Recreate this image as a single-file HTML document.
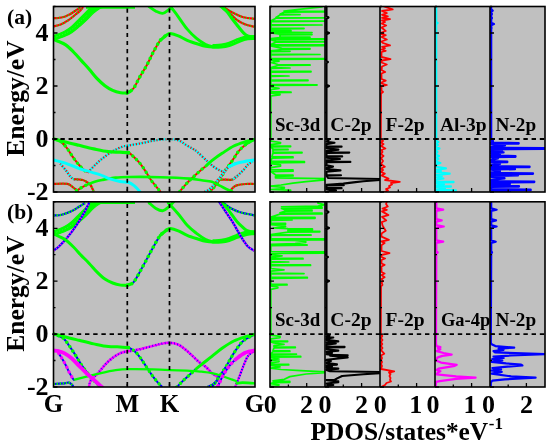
<!DOCTYPE html>
<html><head><meta charset="utf-8"><style>html,body{margin:0;padding:0;background:#fff;overflow:hidden;}svg{display:block;}</style></head><body>
<svg width="550" height="446" viewBox="0 0 550 446" font-family="'Liberation Serif', 'Times New Roman', serif" font-weight="bold">
<rect width="550" height="446" fill="#fff"/>
<rect x="53.5" y="6.5" width="201.5" height="185.5" fill="#c0c0c0"/>
<rect x="270.0" y="6.5" width="275.0" height="185.5" fill="#c0c0c0"/>
<rect x="53.5" y="201.8" width="201.5" height="185.2" fill="#c0c0c0"/>
<rect x="270.0" y="201.8" width="275.0" height="185.2" fill="#c0c0c0"/>
<defs>
<clipPath id="banda"><rect x="53.5" y="6.5" width="201.5" height="185.5"/></clipPath>
<clipPath id="pa0"><rect x="270.0" y="6.5" width="55.0" height="185.5"/></clipPath>
<clipPath id="pa1"><rect x="325.0" y="6.5" width="55.0" height="185.5"/></clipPath>
<clipPath id="pa2"><rect x="380.0" y="6.5" width="55.0" height="185.5"/></clipPath>
<clipPath id="pa3"><rect x="435.0" y="6.5" width="55.0" height="185.5"/></clipPath>
<clipPath id="pa4"><rect x="490.0" y="6.5" width="55.0" height="185.5"/></clipPath>
<clipPath id="bandb"><rect x="53.5" y="201.8" width="201.5" height="185.2"/></clipPath>
<clipPath id="pb0"><rect x="270.0" y="201.8" width="55.0" height="185.2"/></clipPath>
<clipPath id="pb1"><rect x="325.0" y="201.8" width="55.0" height="185.2"/></clipPath>
<clipPath id="pb2"><rect x="380.0" y="201.8" width="55.0" height="185.2"/></clipPath>
<clipPath id="pb3"><rect x="435.0" y="201.8" width="55.0" height="185.2"/></clipPath>
<clipPath id="pb4"><rect x="490.0" y="201.8" width="55.0" height="185.2"/></clipPath>
</defs>
<g clip-path="url(#banda)">
<path d="M53.6,18.2 C54.3,18.2 56.2,18.2 58.0,18.0 C59.8,17.8 62.5,17.3 64.5,16.7 C66.5,16.1 68.2,15.1 70.0,14.2 C71.8,13.2 73.2,12.2 75.0,11.0 C76.8,9.8 79.6,7.9 80.5,7.3" stroke="#ff0000" stroke-width="2.2" fill="none"/>
<path d="M53.6,18.2 C54.3,18.2 56.2,18.2 58.0,18.0 C59.8,17.8 62.5,17.3 64.5,16.7 C66.5,16.1 68.2,15.1 70.0,14.2 C71.8,13.2 73.2,12.2 75.0,11.0 C76.8,9.8 79.6,7.9 80.5,7.3" stroke="#00ff00" stroke-width="2.2" fill="none" stroke-dasharray="0.8,2.2"/>
<path d="M53.6,26.4 C54.8,26.1 58.2,25.5 60.7,24.5 C63.2,23.5 65.9,21.9 68.4,20.2 C71.0,18.5 74.0,15.8 76.0,14.2 C78.0,12.6 79.2,11.6 80.4,10.4 C81.6,9.2 82.6,7.6 83.0,7.0" stroke="#ff0000" stroke-width="2.2" fill="none"/>
<path d="M53.6,26.4 C54.8,26.1 58.2,25.5 60.7,24.5 C63.2,23.5 65.9,21.9 68.4,20.2 C71.0,18.5 74.0,15.8 76.0,14.2 C78.0,12.6 79.2,11.6 80.4,10.4 C81.6,9.2 82.6,7.6 83.0,7.0" stroke="#00ff00" stroke-width="2.2" fill="none" stroke-dasharray="0.8,2.2"/>
<path d="M224.5,7.8 C226.1,8.7 230.8,11.7 234.0,13.3 C237.2,14.9 240.0,16.4 243.4,17.3 C246.8,18.2 252.6,18.6 254.4,18.8" stroke="#ff0000" stroke-width="2.2" fill="none"/>
<path d="M224.5,7.8 C226.1,8.7 230.8,11.7 234.0,13.3 C237.2,14.9 240.0,16.4 243.4,17.3 C246.8,18.2 252.6,18.6 254.4,18.8" stroke="#00ff00" stroke-width="2.2" fill="none" stroke-dasharray="0.8,2.2"/>
<path d="M226.1,9.4 C227.7,11.0 232.4,16.3 235.5,18.8 C238.6,21.3 241.8,23.0 244.9,24.3 C248.1,25.6 252.8,26.3 254.4,26.7" stroke="#ff0000" stroke-width="2.2" fill="none"/>
<path d="M226.1,9.4 C227.7,11.0 232.4,16.3 235.5,18.8 C238.6,21.3 241.8,23.0 244.9,24.3 C248.1,25.6 252.8,26.3 254.4,26.7" stroke="#00ff00" stroke-width="2.2" fill="none" stroke-dasharray="0.8,2.2"/>
<path d="M53.6,35.4 C54.3,35.2 56.2,34.7 58.0,34.0 C59.8,33.3 62.2,32.6 64.5,31.3 C66.8,30.0 69.4,28.3 71.8,26.2 C74.2,24.1 76.9,21.1 79.1,18.9 C81.3,16.7 83.2,14.8 84.9,13.1 C86.6,11.4 88.1,9.8 89.3,8.7 C90.5,7.6 91.5,6.9 92.0,6.5 L110.0,6.5 C109.2,6.5 107.0,6.4 105.3,6.8 C103.5,7.2 101.5,7.6 99.5,8.7 C97.5,9.8 95.8,11.2 93.6,13.1 C91.4,15.0 88.8,18.1 86.4,20.4 C84.0,22.7 81.5,24.8 79.1,26.9 C76.7,28.9 74.2,31.1 71.8,32.7 C69.4,34.3 66.8,35.4 64.5,36.4 C62.2,37.4 59.8,38.2 58.0,38.8 C56.2,39.4 54.3,40.0 53.6,40.2 Z" fill="#00ff00" stroke="#00ff00" stroke-width="1.2" stroke-linejoin="round"/>
<path d="M53.6,37.8 C54.5,37.5 56.9,36.7 59.0,35.9 C61.1,35.1 63.6,34.3 66.0,33.0 C68.4,31.7 70.9,30.1 73.4,28.1 C75.9,26.1 78.5,23.4 80.8,21.2 C83.1,19.1 86.3,16.0 87.3,14.9" stroke="#9ee89e" stroke-width="0.6" fill="none" stroke-dasharray="1,2" opacity="0.6"/>
<path d="M86,7.6 L135,7.6" stroke="#00ff00" stroke-width="2.4"/>
<path d="M53.9,39.4 C54.6,39.7 56.0,40.4 58.0,41.3 C60.0,42.2 63.1,43.1 65.7,44.9 C68.3,46.7 70.9,49.4 73.5,52.0 C76.1,54.6 78.8,57.7 81.4,60.6 C84.0,63.5 86.6,66.2 89.2,69.2 C91.8,72.2 94.5,75.8 97.1,78.6 C99.7,81.3 102.3,83.7 104.9,85.7 C107.5,87.7 110.1,89.2 112.7,90.4 C115.3,91.6 118.2,92.3 120.6,92.7 C123.0,93.1 125.9,93.0 127.0,93.0" stroke="#00ff00" stroke-width="3.17" fill="none" stroke-linecap="round" stroke-linejoin="round"/>
<path d="M127.0,93.0 C128.1,92.2 131.2,91.3 133.4,88.5 C135.6,85.7 137.9,80.1 140.2,76.2 C142.4,72.3 144.7,69.1 146.9,65.0 C149.1,60.9 151.4,55.6 153.6,51.5 C155.8,47.4 158.1,43.1 160.3,40.3 C162.6,37.5 166.0,35.6 167.1,34.7" stroke="#ff0000" stroke-width="2.0" fill="none"/>
<path d="M127.0,93.0 C128.1,92.2 131.2,91.3 133.4,88.5 C135.6,85.7 137.9,80.1 140.2,76.2 C142.4,72.3 144.7,69.1 146.9,65.0 C149.1,60.9 151.4,55.6 153.6,51.5 C155.8,47.4 158.1,43.1 160.3,40.3 C162.6,37.5 166.0,35.6 167.1,34.7" stroke="#00ff00" stroke-width="3.6" fill="none" stroke-linecap="round" stroke-dasharray="0.01,5.3"/>
<path d="M127.0,93.0 L130.0,91.6" stroke="#00ff00" stroke-width="3.34" fill="none" stroke-linecap="round" stroke-linejoin="round"/>
<path d="M160.3,40.3 C161.4,39.4 165.4,35.8 167.1,34.7 C168.8,33.6 168.5,33.4 170.4,33.6 C172.3,33.8 175.5,34.8 178.3,35.9 C181.1,37.0 183.9,38.9 187.2,40.3 C190.4,41.6 194.7,43.0 197.8,44.0 C200.9,45.0 203.1,45.8 205.7,46.3 C208.3,46.8 210.9,47.0 213.5,47.1 C216.1,47.2 218.8,47.4 221.4,47.1 C224.0,46.8 226.6,46.3 229.2,45.5 C231.8,44.7 234.5,43.4 237.1,42.4 C239.7,41.4 242.0,39.9 244.9,39.2 C247.8,38.6 252.8,38.6 254.4,38.5" stroke="#00ff00" stroke-width="2.99" fill="none" stroke-linecap="round" stroke-linejoin="round"/>
<path d="M171.5,7.8 C172.6,9.3 175.7,13.2 178.3,16.8 C180.9,20.4 184.2,25.6 187.2,29.1 C190.2,32.6 193.1,35.5 196.2,38.1 C199.3,40.7 202.8,43.0 205.7,44.5 C208.6,46.0 212.2,46.7 213.5,47.1" stroke="#00ff00" stroke-width="2.9" fill="none" stroke-linecap="round" stroke-linejoin="round"/>
<path d="M220.0,5.5 C220.6,6.0 222.3,7.4 223.5,8.5 C224.7,9.6 225.9,10.3 227.3,12.0 C228.7,13.7 230.4,16.3 232.0,18.5 C233.6,20.7 235.5,23.1 237.0,25.0 C238.5,26.9 239.5,28.3 241.0,30.0 C242.5,31.7 243.8,33.7 246.0,35.0 C248.2,36.3 253.0,37.2 254.4,37.7" stroke="#00ff00" stroke-width="3.17" fill="none" stroke-linecap="round" stroke-linejoin="round"/>
<path d="M244.0,38.5 C244.8,38.4 247.3,37.9 249.0,37.8 C250.7,37.6 253.5,37.6 254.4,37.6" stroke="#00ff00" stroke-width="3.87" fill="none" stroke-linecap="round" stroke-linejoin="round"/>
<path d="M213.5,45.3 C214.8,45.2 218.8,45.2 221.4,44.8 C224.0,44.4 226.6,43.9 229.2,43.0 C231.8,42.1 234.5,40.6 237.1,39.6 C239.7,38.6 242.0,37.7 244.9,37.1 C247.8,36.5 252.8,36.4 254.4,36.3" stroke="#00ff00" stroke-width="2.64" fill="none" stroke-linecap="round" stroke-linejoin="round"/>
<path d="M149.1,6.7 C150.2,7.5 153.7,10.1 155.9,11.2 C158.2,12.3 160.6,13.6 162.6,13.4 C164.6,13.2 166.7,11.2 168.2,10.1 C169.7,9.0 170.9,7.3 171.5,6.7" stroke="#00ff00" stroke-width="2.9" fill="none" stroke-linecap="round" stroke-linejoin="round"/>
<path d="M53.6,183.9 C55.9,183.9 64.2,183.3 67.5,183.9 C70.8,184.5 71.8,186.6 73.3,187.6 C74.8,188.6 75.3,189.0 76.2,189.7 C77.1,190.4 78.1,191.6 78.5,192.0" stroke="#ff0000" stroke-width="2.2" fill="none"/>
<path d="M53.6,183.9 C55.9,183.9 64.2,183.3 67.5,183.9 C70.8,184.5 71.8,186.6 73.3,187.6 C74.8,188.6 75.3,189.0 76.2,189.7 C77.1,190.4 78.1,191.6 78.5,192.0" stroke="#00ff00" stroke-width="2.2" fill="none" stroke-dasharray="0.8,2.2"/>
<path d="M60.2,163.6 C61.1,164.7 63.9,167.9 65.6,170.0 C67.3,172.1 68.8,174.9 70.2,176.4 C71.6,177.9 72.3,178.7 73.8,179.2 C75.3,179.7 78.4,179.4 79.3,179.5" stroke="#00ffff" stroke-width="2.2" fill="none"/>
<path d="M60.2,163.6 C61.1,164.7 63.9,167.9 65.6,170.0 C67.3,172.1 68.8,174.9 70.2,176.4 C71.6,177.9 72.3,178.7 73.8,179.2 C75.3,179.7 78.4,179.4 79.3,179.5" stroke="#ff0000" stroke-width="2.2" fill="none" stroke-dasharray="1.1,1.9"/>
<path d="M73.8,179.2 C74.7,179.2 77.8,179.4 79.3,179.5 C80.8,179.6 81.7,179.6 82.9,180.0 C84.1,180.4 85.3,181.1 86.5,181.8 C87.7,182.6 89.0,182.9 90.2,184.5 C91.4,186.1 93.2,190.4 93.8,191.6" stroke="#ff0000" stroke-width="2.2" fill="none"/>
<path d="M73.8,179.2 C74.7,179.2 77.8,179.4 79.3,179.5 C80.8,179.6 81.7,179.6 82.9,180.0 C84.1,180.4 85.3,181.1 86.5,181.8 C87.7,182.6 89.0,182.9 90.2,184.5 C91.4,186.1 93.2,190.4 93.8,191.6" stroke="#00ff00" stroke-width="2.2" fill="none" stroke-dasharray="0.8,2.2"/>
<path d="M254.2,184.0 C252.7,184.0 248.3,183.8 245.4,184.0 C242.5,184.2 238.9,184.7 236.7,185.4 C234.5,186.1 233.3,187.4 232.3,188.3 C231.3,189.2 231.1,190.6 230.8,191.0" stroke="#ff0000" stroke-width="2.2" fill="none"/>
<path d="M254.2,184.0 C252.7,184.0 248.3,183.8 245.4,184.0 C242.5,184.2 238.9,184.7 236.7,185.4 C234.5,186.1 233.3,187.4 232.3,188.3 C231.3,189.2 231.1,190.6 230.8,191.0" stroke="#00ff00" stroke-width="2.2" fill="none" stroke-dasharray="0.8,2.2"/>
<path d="M216.3,181.0 C217.3,180.8 219.4,179.8 222.1,179.6 C224.8,179.4 229.6,180.3 232.3,179.6 C235.0,178.9 237.1,175.9 238.1,175.2" stroke="#ff0000" stroke-width="2.2" fill="none"/>
<path d="M216.3,181.0 C217.3,180.8 219.4,179.8 222.1,179.6 C224.8,179.4 229.6,180.3 232.3,179.6 C235.0,178.9 237.1,175.9 238.1,175.2" stroke="#00ff00" stroke-width="2.2" fill="none" stroke-dasharray="0.8,2.2"/>
<path d="M232.3,179.6 C233.3,178.9 236.2,176.9 238.1,175.2 C240.0,173.5 242.3,171.2 244.0,169.4 C245.7,167.6 246.9,165.6 248.3,164.3 C249.8,163.0 252.0,161.9 252.7,161.4" stroke="#00ffff" stroke-width="2.2" fill="none"/>
<path d="M232.3,179.6 C233.3,178.9 236.2,176.9 238.1,175.2 C240.0,173.5 242.3,171.2 244.0,169.4 C245.7,167.6 246.9,165.6 248.3,164.3 C249.8,163.0 252.0,161.9 252.7,161.4" stroke="#ff0000" stroke-width="2.2" fill="none" stroke-dasharray="1.1,1.9"/>
<path d="M53.6,139.0 C54.3,139.2 56.6,139.7 58.0,140.2 C59.4,140.7 60.5,141.0 61.7,141.9 C62.9,142.8 64.5,144.9 65.0,145.5" stroke="#00ff00" stroke-width="3.17" fill="none" stroke-linecap="round" stroke-linejoin="round"/>
<path d="M61.7,141.9 C62.7,143.1 65.6,146.3 67.5,148.9 C69.4,151.5 71.4,155.0 73.3,157.7 C75.2,160.4 77.1,162.8 79.1,165.0 C81.0,167.2 83.3,169.6 85.0,170.8 C86.7,172.0 88.6,172.1 89.3,172.3" stroke="#ff0000" stroke-width="2.0" fill="none"/>
<path d="M61.7,141.9 C62.7,143.1 65.6,146.3 67.5,148.9 C69.4,151.5 71.4,155.0 73.3,157.7 C75.2,160.4 77.1,162.8 79.1,165.0 C81.0,167.2 83.3,169.6 85.0,170.8 C86.7,172.0 88.6,172.1 89.3,172.3" stroke="#00ff00" stroke-width="3.4" fill="none" stroke-linecap="round" stroke-dasharray="0.01,5.3"/>
<path d="M87.9,172.3 C89.4,170.8 93.7,166.2 96.6,163.5 C99.5,160.8 102.5,158.4 105.4,156.2 C108.3,154.0 111.2,152.0 114.1,150.4 C117.0,148.8 120.7,147.3 122.9,146.5 C125.1,145.7 124.1,146.3 127.3,145.7 C130.5,145.1 137.1,144.0 141.9,143.1 C146.8,142.2 151.8,140.8 156.4,140.2 C161.0,139.5 165.8,139.2 169.5,139.2 C173.2,139.2 175.6,139.3 178.3,140.2 C181.0,141.1 183.2,143.1 185.6,144.6 C188.0,146.1 190.9,147.7 192.9,148.9 C194.9,150.1 194.9,149.8 197.3,151.9 C199.7,154.0 204.7,158.9 207.5,161.4 C210.3,163.9 211.8,165.4 214.0,167.0 C216.2,168.6 218.6,170.0 220.6,170.8 C222.6,171.6 225.1,171.8 226.0,172.0" stroke="#00ffff" stroke-width="2.2" fill="none"/>
<path d="M87.9,172.3 C89.4,170.8 93.7,166.2 96.6,163.5 C99.5,160.8 102.5,158.4 105.4,156.2 C108.3,154.0 111.2,152.0 114.1,150.4 C117.0,148.8 120.7,147.3 122.9,146.5 C125.1,145.7 124.1,146.3 127.3,145.7 C130.5,145.1 137.1,144.0 141.9,143.1 C146.8,142.2 151.8,140.8 156.4,140.2 C161.0,139.5 165.8,139.2 169.5,139.2 C173.2,139.2 175.6,139.3 178.3,140.2 C181.0,141.1 183.2,143.1 185.6,144.6 C188.0,146.1 190.9,147.7 192.9,148.9 C194.9,150.1 194.9,149.8 197.3,151.9 C199.7,154.0 204.7,158.9 207.5,161.4 C210.3,163.9 211.8,165.4 214.0,167.0 C216.2,168.6 218.6,170.0 220.6,170.8 C222.6,171.6 225.1,171.8 226.0,172.0" stroke="#ff0000" stroke-width="2.2" fill="none" stroke-dasharray="1.1,1.9"/>
<path d="M210.4,191.6 C211.6,190.1 215.3,186.0 217.7,182.5 C220.1,179.0 222.6,174.5 225.0,170.8 C227.4,167.2 230.1,163.8 232.3,160.6 C234.5,157.4 236.2,154.3 238.1,151.9 C240.0,149.5 242.0,147.7 244.0,146.0 C246.0,144.3 249.0,142.2 250.0,141.5" stroke="#ff0000" stroke-width="2.0" fill="none"/>
<path d="M210.4,191.6 C211.6,190.1 215.3,186.0 217.7,182.5 C220.1,179.0 222.6,174.5 225.0,170.8 C227.4,167.2 230.1,163.8 232.3,160.6 C234.5,157.4 236.2,154.3 238.1,151.9 C240.0,149.5 242.0,147.7 244.0,146.0 C246.0,144.3 249.0,142.2 250.0,141.5" stroke="#00ff00" stroke-width="3.4" fill="none" stroke-linecap="round" stroke-dasharray="0.01,5.3"/>
<path d="M246.0,144.0 C246.7,143.6 248.6,142.2 250.0,141.5 C251.4,140.8 253.5,139.8 254.2,139.5" stroke="#00ff00" stroke-width="3.17" fill="none" stroke-linecap="round" stroke-linejoin="round"/>
<path d="M128.7,152.6 C129.4,153.2 131.4,154.6 133.1,156.2 C134.8,157.8 136.9,159.8 138.9,162.1 C140.9,164.4 142.9,167.2 144.8,170.1 C146.8,173.0 148.7,176.7 150.6,179.5 C152.5,182.3 154.7,184.7 156.4,186.8 C158.1,188.9 160.1,191.1 160.8,192.0" stroke="#ff0000" stroke-width="2.0" fill="none"/>
<path d="M128.7,152.6 C129.4,153.2 131.4,154.6 133.1,156.2 C134.8,157.8 136.9,159.8 138.9,162.1 C140.9,164.4 142.9,167.2 144.8,170.1 C146.8,173.0 148.7,176.7 150.6,179.5 C152.5,182.3 154.7,184.7 156.4,186.8 C158.1,188.9 160.1,191.1 160.8,192.0" stroke="#00ff00" stroke-width="3.4" fill="none" stroke-linecap="round" stroke-dasharray="0.01,5.3"/>
<path d="M179.7,191.6 C180.7,190.4 183.9,186.5 185.6,184.6 C187.3,182.7 188.3,181.7 190.0,180.0 C191.7,178.3 194.1,176.3 196.0,174.5 C197.9,172.7 200.0,170.8 201.7,169.4 C203.4,168.0 205.3,166.6 206.0,166.0" stroke="#ff0000" stroke-width="2.0" fill="none"/>
<path d="M179.7,191.6 C180.7,190.4 183.9,186.5 185.6,184.6 C187.3,182.7 188.3,181.7 190.0,180.0 C191.7,178.3 194.1,176.3 196.0,174.5 C197.9,172.7 200.0,170.8 201.7,169.4 C203.4,168.0 205.3,166.6 206.0,166.0" stroke="#00ff00" stroke-width="3.4" fill="none" stroke-linecap="round" stroke-dasharray="0.01,5.3"/>
<path d="M204.6,192.0 C205.3,191.6 207.3,191.1 209.0,189.8 C210.7,188.5 212.9,186.2 214.8,184.0 C216.7,181.8 218.9,178.9 220.6,176.7 C222.3,174.5 223.5,172.5 225.0,170.8 C226.5,169.1 227.5,167.8 229.4,166.5 C231.3,165.2 235.5,163.8 236.7,163.2" stroke="#00ffff" stroke-width="2.5" fill="none"/>
<path d="M204.6,192.0 C205.3,191.6 207.3,191.1 209.0,189.8 C210.7,188.5 212.9,186.2 214.8,184.0 C216.7,181.8 218.9,178.9 220.6,176.7 C222.3,174.5 223.5,172.5 225.0,170.8 C226.5,169.1 227.5,167.8 229.4,166.5 C231.3,165.2 235.5,163.8 236.7,163.2" stroke="#ff0000" stroke-width="2.5" fill="none" stroke-dasharray="1.1,1.9"/>
<path d="M76.5,190.5 C77.4,190.0 80.0,188.4 82.0,187.3 C84.0,186.2 87.3,184.6 88.4,184.1" stroke="#ff0000" stroke-width="2.0" fill="none"/>
<path d="M76.5,190.5 C77.4,190.0 80.0,188.4 82.0,187.3 C84.0,186.2 87.3,184.6 88.4,184.1" stroke="#00ff00" stroke-width="3.4" fill="none" stroke-linecap="round" stroke-dasharray="0.01,5.3"/>
<path d="M88.4,184.1 C89.5,183.7 92.4,182.5 94.7,181.8 C97.0,181.1 98.5,180.7 102.0,180.0 C105.5,179.3 110.9,178.1 115.6,177.6 C120.3,177.1 122.6,177.1 130.0,177.0 C137.4,176.9 150.0,176.9 160.0,177.2 C170.0,177.5 183.1,178.1 190.0,178.6 C196.9,179.1 198.0,179.8 201.7,180.3 C205.3,180.8 209.0,181.0 211.9,181.8 C214.8,182.7 216.5,184.1 219.2,185.4 C221.9,186.7 225.7,188.8 227.9,189.8 C230.1,190.8 231.6,191.3 232.3,191.6" stroke="#00ff00" stroke-width="2.64" fill="none" stroke-linecap="round" stroke-linejoin="round"/>
<path d="M53.6,160.0 C55.4,160.5 60.3,161.4 64.6,162.8 C68.9,164.2 74.6,166.9 79.3,168.6 C84.0,170.2 89.1,171.5 92.9,172.7 C96.7,173.8 99.4,174.6 102.0,175.5 C104.6,176.4 105.3,177.3 108.3,178.3 C111.3,179.3 116.6,180.8 120.0,181.5 C123.4,182.2 126.3,181.7 128.7,182.5 C131.1,183.3 132.9,184.8 134.6,186.1 C136.3,187.4 138.0,189.6 138.9,190.5 C139.8,191.4 139.8,191.6 140.0,191.8" stroke="#00ffff" stroke-width="2.9" fill="none" stroke-linecap="round" stroke-linejoin="round"/>
<path d="M229.4,166.5 C230.6,165.9 234.0,164.0 236.7,163.2 C239.4,162.3 242.5,161.9 245.4,161.4 C248.3,160.9 252.7,160.2 254.2,159.9" stroke="#00ffff" stroke-width="3.1" fill="none" stroke-linecap="round" stroke-linejoin="round"/>
<path d="M53.6,139.0 C55.4,139.4 60.3,140.6 64.6,141.7 C68.8,142.8 74.2,144.1 79.1,145.3 C83.9,146.5 88.8,147.9 93.7,148.9 C98.6,149.9 103.9,151.1 108.3,151.6 C112.7,152.1 116.6,152.0 120.0,152.2 C123.4,152.4 127.2,152.7 128.7,152.8" stroke="#00ff00" stroke-width="3.17" fill="none" stroke-linecap="round" stroke-linejoin="round"/>
<path d="M206.0,166.0 C207.0,165.1 209.2,162.7 211.9,160.6 C214.6,158.5 218.4,155.7 222.1,153.3 C225.8,150.9 229.9,147.9 233.8,146.0 C237.7,144.1 242.0,142.8 245.4,141.7 C248.8,140.6 252.7,139.9 254.2,139.5" stroke="#00ff00" stroke-width="2.99" fill="none" stroke-linecap="round" stroke-linejoin="round"/>
</g>
<g clip-path="url(#bandb)">
<path d="M53.6,215.4 C55.0,215.3 58.7,215.4 61.7,214.7 C64.8,214.0 69.0,212.3 71.9,211.0 C74.8,209.7 76.9,208.0 79.1,206.7 C81.3,205.4 84.0,203.6 85.0,203.0" stroke="#0000ff" stroke-width="2.2" fill="none"/>
<path d="M53.6,215.4 C55.0,215.3 58.7,215.4 61.7,214.7 C64.8,214.0 69.0,212.3 71.9,211.0 C74.8,209.7 76.9,208.0 79.1,206.7 C81.3,205.4 84.0,203.6 85.0,203.0" stroke="#00ff00" stroke-width="2.2" fill="none" stroke-dasharray="1.5,1.5"/>
<path d="M223.0,202.8 C224.3,203.7 227.9,206.7 230.8,208.3 C233.7,209.9 236.3,211.1 240.2,212.3 C244.1,213.5 252.0,214.9 254.4,215.4" stroke="#0000ff" stroke-width="2.2" fill="none"/>
<path d="M223.0,202.8 C224.3,203.7 227.9,206.7 230.8,208.3 C233.7,209.9 236.3,211.1 240.2,212.3 C244.1,213.5 252.0,214.9 254.4,215.4" stroke="#00ff00" stroke-width="2.2" fill="none" stroke-dasharray="1.5,1.5"/>
<path d="M53.6,230.7 C54.3,230.5 56.2,230.0 58.0,229.3 C59.8,228.6 62.2,227.9 64.5,226.6 C66.8,225.3 69.4,223.6 71.8,221.5 C74.2,219.4 76.9,216.4 79.1,214.2 C81.3,212.0 83.2,210.1 84.9,208.4 C86.6,206.7 88.1,205.1 89.3,204.0 C90.5,202.9 91.5,202.2 92.0,201.8 L110.0,201.8 C109.2,201.9 107.0,201.7 105.3,202.1 C103.5,202.5 101.5,202.9 99.5,204.0 C97.5,205.1 95.8,206.4 93.6,208.4 C91.4,210.4 88.8,213.4 86.4,215.7 C84.0,218.0 81.5,220.2 79.1,222.2 C76.7,224.2 74.2,226.4 71.8,228.0 C69.4,229.6 66.8,230.7 64.5,231.7 C62.2,232.7 59.8,233.5 58.0,234.1 C56.2,234.7 54.3,235.3 53.6,235.5 Z" fill="#00ff00" stroke="#00ff00" stroke-width="1.2" stroke-linejoin="round"/>
<path d="M53.6,233.1 C54.5,232.8 56.9,232.0 59.0,231.2 C61.1,230.4 63.6,229.7 66.0,228.4 C68.4,227.1 70.9,225.4 73.4,223.4 C75.9,221.4 78.5,218.7 80.8,216.6 C83.1,214.4 86.3,211.3 87.3,210.2" stroke="#9ee89e" stroke-width="0.6" fill="none" stroke-dasharray="1,2" opacity="0.6"/>
<path d="M90,202.9 L135,202.9" stroke="#00ff00" stroke-width="2.4"/>
<path d="M53.6,250.4 C54.5,249.8 56.4,248.9 58.7,246.7 C61.0,244.5 64.6,240.8 67.5,237.3 C70.4,233.8 73.5,229.5 76.2,225.6 C78.9,221.7 81.3,217.8 83.5,213.9 C85.7,210.1 88.3,204.4 89.3,202.5" stroke="#0000ff" stroke-width="2.2" fill="none"/>
<path d="M53.6,250.4 C54.5,249.8 56.4,248.9 58.7,246.7 C61.0,244.5 64.6,240.8 67.5,237.3 C70.4,233.8 73.5,229.5 76.2,225.6 C78.9,221.7 81.3,217.8 83.5,213.9 C85.7,210.1 88.3,204.4 89.3,202.5" stroke="#ff00ff" stroke-width="2.2" fill="none" stroke-dasharray="1.1,1.9"/>
<path d="M53.9,233.6 C54.6,234.0 56.0,234.9 58.0,236.0 C60.0,237.1 63.1,238.1 65.7,239.9 C68.3,241.7 70.9,244.4 73.5,247.0 C76.1,249.6 78.8,252.9 81.4,255.6 C84.0,258.3 86.6,260.6 89.2,263.4 C91.8,266.1 94.5,269.5 97.1,272.1 C99.7,274.7 102.3,277.3 104.9,279.1 C107.5,280.9 110.1,282.0 112.7,283.0 C115.3,284.0 118.2,284.7 120.6,285.1 C123.0,285.5 125.9,285.3 126.9,285.4" stroke="#00ff00" stroke-width="2.99" fill="none" stroke-linecap="round" stroke-linejoin="round"/>
<path d="M126.9,285.4 C128.0,284.9 131.2,284.8 133.4,282.4 C135.6,280.0 137.9,275.1 140.2,271.2 C142.4,267.3 144.7,263.0 146.9,258.9 C149.1,254.8 151.4,250.4 153.6,246.5 C155.8,242.6 158.1,238.1 160.3,235.3 C162.6,232.5 166.0,230.6 167.1,229.7" stroke="#0000ff" stroke-width="2.0" fill="none"/>
<path d="M126.9,285.4 C128.0,284.9 131.2,284.8 133.4,282.4 C135.6,280.0 137.9,275.1 140.2,271.2 C142.4,267.3 144.7,263.0 146.9,258.9 C149.1,254.8 151.4,250.4 153.6,246.5 C155.8,242.6 158.1,238.1 160.3,235.3 C162.6,232.5 166.0,230.6 167.1,229.7" stroke="#00ff00" stroke-width="3.6" fill="none" stroke-linecap="round" stroke-dasharray="0.01,5.3"/>
<path d="M126.9,285.4 L130.0,284.2" stroke="#00ff00" stroke-width="3.34" fill="none" stroke-linecap="round" stroke-linejoin="round"/>
<path d="M160.3,235.3 C161.4,234.4 165.4,230.8 167.1,229.7 C168.8,228.6 168.5,228.4 170.4,228.6 C172.3,228.8 175.5,229.8 178.3,230.9 C181.1,232.0 183.9,234.0 187.2,235.3 C190.4,236.7 194.7,238.0 197.8,239.0 C200.9,240.0 203.1,240.8 205.7,241.3 C208.3,241.8 210.9,242.0 213.5,242.1 C216.1,242.2 218.8,242.4 221.4,242.1 C224.0,241.8 226.6,241.3 229.2,240.5 C231.8,239.7 234.5,238.3 237.1,237.4 C239.7,236.5 242.0,235.7 244.9,235.0 C247.8,234.3 252.8,233.8 254.4,233.5" stroke="#00ff00" stroke-width="2.99" fill="none" stroke-linecap="round" stroke-linejoin="round"/>
<path d="M168.2,202.8 C169.9,204.7 175.1,210.2 178.3,214.0 C181.5,217.8 184.2,222.1 187.2,225.3 C190.2,228.5 193.1,230.7 196.2,233.1 C199.3,235.5 202.8,238.0 205.7,239.5 C208.6,241.0 212.2,241.7 213.5,242.1" stroke="#00ff00" stroke-width="2.9" fill="none" stroke-linecap="round" stroke-linejoin="round"/>
<path d="M218.0,200.5 C218.6,200.8 219.8,201.1 221.4,202.5 C223.0,203.9 225.9,206.9 227.7,209.1 C229.5,211.2 230.8,213.3 232.4,215.4 C234.0,217.5 235.5,219.9 237.1,221.7 C238.7,223.5 240.2,225.0 241.8,226.4 C243.4,227.8 244.4,229.2 246.5,230.3 C248.6,231.4 253.1,232.3 254.4,232.7" stroke="#00ff00" stroke-width="2.99" fill="none" stroke-linecap="round" stroke-linejoin="round"/>
<path d="M244.0,233.8 C244.8,233.7 247.3,233.2 249.0,233.1 C250.7,232.9 253.5,232.9 254.4,232.9" stroke="#00ff00" stroke-width="3.87" fill="none" stroke-linecap="round" stroke-linejoin="round"/>
<path d="M213.5,240.6 C214.8,240.5 218.8,240.5 221.4,240.1 C224.0,239.7 226.6,239.2 229.2,238.3 C231.8,237.4 234.5,235.9 237.1,234.9 C239.7,233.9 242.0,233.0 244.9,232.4 C247.8,231.8 252.8,231.7 254.4,231.6" stroke="#00ff00" stroke-width="2.64" fill="none" stroke-linecap="round" stroke-linejoin="round"/>
<path d="M149.1,202.8 C150.2,203.7 153.7,207.1 155.9,208.4 C158.2,209.7 160.6,210.9 162.6,210.7 C164.6,210.5 166.3,208.8 168.2,207.3 C170.1,205.8 172.9,202.6 173.8,201.7" stroke="#00ff00" stroke-width="2.9" fill="none" stroke-linecap="round" stroke-linejoin="round"/>
<path d="M218.5,201.0 C218.7,201.3 218.5,200.9 219.8,202.8 C221.1,204.7 224.0,209.2 226.1,212.3 C228.2,215.5 230.3,218.3 232.4,221.7 C234.5,225.1 236.9,229.6 238.7,232.7 C240.5,235.8 241.8,238.2 243.4,240.5 C245.0,242.8 246.3,245.1 248.1,246.8 C249.9,248.5 253.3,250.0 254.4,250.7" stroke="#0000ff" stroke-width="2.2" fill="none"/>
<path d="M218.5,201.0 C218.7,201.3 218.5,200.9 219.8,202.8 C221.1,204.7 224.0,209.2 226.1,212.3 C228.2,215.5 230.3,218.3 232.4,221.7 C234.5,225.1 236.9,229.6 238.7,232.7 C240.5,235.8 241.8,238.2 243.4,240.5 C245.0,242.8 246.3,245.1 248.1,246.8 C249.9,248.5 253.3,250.0 254.4,250.7" stroke="#ff00ff" stroke-width="2.2" fill="none" stroke-dasharray="1.1,1.9"/>
<path d="M53.6,384.0 C55.4,383.9 62.0,383.5 64.6,383.3 C67.1,383.1 67.7,382.4 68.9,382.6 C70.1,382.8 71.1,384.0 71.9,384.7 C72.7,385.4 73.2,386.6 73.5,387.0" stroke="#0000ff" stroke-width="2.2" fill="none"/>
<path d="M53.6,384.0 C55.4,383.9 62.0,383.5 64.6,383.3 C67.1,383.1 67.7,382.4 68.9,382.6 C70.1,382.8 71.1,384.0 71.9,384.7 C72.7,385.4 73.2,386.6 73.5,387.0" stroke="#00ff00" stroke-width="2.2" fill="none" stroke-dasharray="1.5,1.5"/>
<path d="M53.6,334.0 C55.2,334.7 60.5,336.2 63.1,338.1 C65.7,340.0 67.0,342.7 68.9,345.4 C70.9,348.1 72.8,351.1 74.8,354.1 C76.8,357.1 78.7,360.7 80.6,363.6 C82.5,366.5 84.5,369.1 86.4,371.6 C88.4,374.2 90.3,376.7 92.3,378.9 C94.2,381.1 96.7,383.3 98.1,384.7 C99.5,386.1 100.1,386.6 100.5,387.0" stroke="#0000ff" stroke-width="2.0" fill="none"/>
<path d="M53.6,334.0 C55.2,334.7 60.5,336.2 63.1,338.1 C65.7,340.0 67.0,342.7 68.9,345.4 C70.9,348.1 72.8,351.1 74.8,354.1 C76.8,357.1 78.7,360.7 80.6,363.6 C82.5,366.5 84.5,369.1 86.4,371.6 C88.4,374.2 90.3,376.7 92.3,378.9 C94.2,381.1 96.7,383.3 98.1,384.7 C99.5,386.1 100.1,386.6 100.5,387.0" stroke="#00ff00" stroke-width="3.4" fill="none" stroke-linecap="round" stroke-dasharray="0.01,5.3"/>
<path d="M58.7,353.4 C59.7,355.0 62.9,359.9 64.6,362.9 C66.3,365.9 67.6,369.1 68.9,371.6 C70.2,374.2 71.6,376.7 72.6,378.2 C73.6,379.7 74.4,380.0 74.8,380.4" stroke="#0000ff" stroke-width="2.0" fill="none"/>
<path d="M58.7,353.4 C59.7,355.0 62.9,359.9 64.6,362.9 C66.3,365.9 67.6,369.1 68.9,371.6 C70.2,374.2 71.6,376.7 72.6,378.2 C73.6,379.7 74.4,380.0 74.8,380.4" stroke="#ff00ff" stroke-width="3.4" fill="none" stroke-linecap="round" stroke-dasharray="0.01,5.3"/>
<path d="M89.0,387.0 C89.3,385.9 89.3,382.7 90.8,380.4 C92.3,378.1 95.7,375.8 98.1,373.1 C100.5,370.4 103.0,366.9 105.4,364.3 C107.8,361.8 110.3,359.6 112.7,357.8 C115.1,356.0 117.5,354.5 119.9,353.4 C122.3,352.3 124.8,351.7 127.2,351.2 C129.7,350.7 130.9,351.2 134.6,350.5 C138.2,349.8 144.7,348.0 149.1,346.9 C153.5,345.8 157.4,344.6 160.8,343.9 C164.2,343.2 166.6,342.7 169.5,342.8 C172.4,342.9 175.6,343.5 178.3,344.7 C181.0,345.9 183.2,347.9 185.6,349.8 C188.0,351.7 190.5,354.1 192.9,356.3 C195.3,358.5 197.8,361.1 200.0,362.9 C202.2,364.7 204.0,365.3 206.0,367.0 C208.0,368.7 210.0,371.5 211.9,373.1 C213.8,374.7 216.7,376.2 217.7,376.8" stroke="#ff00ff" stroke-width="2.5" fill="none"/>
<path d="M89.0,387.0 C89.3,385.9 89.3,382.7 90.8,380.4 C92.3,378.1 95.7,375.8 98.1,373.1 C100.5,370.4 103.0,366.9 105.4,364.3 C107.8,361.8 110.3,359.6 112.7,357.8 C115.1,356.0 117.5,354.5 119.9,353.4 C122.3,352.3 124.8,351.7 127.2,351.2 C129.7,350.7 130.9,351.2 134.6,350.5 C138.2,349.8 144.7,348.0 149.1,346.9 C153.5,345.8 157.4,344.6 160.8,343.9 C164.2,343.2 166.6,342.7 169.5,342.8 C172.4,342.9 175.6,343.5 178.3,344.7 C181.0,345.9 183.2,347.9 185.6,349.8 C188.0,351.7 190.5,354.1 192.9,356.3 C195.3,358.5 197.8,361.1 200.0,362.9 C202.2,364.7 204.0,365.3 206.0,367.0 C208.0,368.7 210.0,371.5 211.9,373.1 C213.8,374.7 216.7,376.2 217.7,376.8" stroke="#0000ff" stroke-width="2.5" fill="none" stroke-dasharray="0.6,2.6"/>
<path d="M128.7,347.6 C129.7,348.2 132.6,349.5 134.6,351.2 C136.6,352.9 138.5,355.2 140.4,357.8 C142.3,360.4 144.2,363.6 146.2,366.5 C148.1,369.4 150.1,372.6 152.1,375.3 C154.1,378.0 156.2,380.7 157.9,382.6 C159.6,384.6 161.6,386.3 162.3,387.0" stroke="#0000ff" stroke-width="2.0" fill="none"/>
<path d="M128.7,347.6 C129.7,348.2 132.6,349.5 134.6,351.2 C136.6,352.9 138.5,355.2 140.4,357.8 C142.3,360.4 144.2,363.6 146.2,366.5 C148.1,369.4 150.1,372.6 152.1,375.3 C154.1,378.0 156.2,380.7 157.9,382.6 C159.6,384.6 161.6,386.3 162.3,387.0" stroke="#00ff00" stroke-width="3.4" fill="none" stroke-linecap="round" stroke-dasharray="0.01,5.3"/>
<path d="M176.8,387.0 C177.8,386.0 180.5,383.2 182.7,381.1 C184.9,379.0 187.7,376.5 189.9,374.5 C192.1,372.5 195.0,369.9 196.0,369.0" stroke="#0000ff" stroke-width="2.0" fill="none"/>
<path d="M176.8,387.0 C177.8,386.0 180.5,383.2 182.7,381.1 C184.9,379.0 187.7,376.5 189.9,374.5 C192.1,372.5 195.0,369.9 196.0,369.0" stroke="#00ff00" stroke-width="3.4" fill="none" stroke-linecap="round" stroke-dasharray="0.01,5.3"/>
<path d="M254.2,334.5 C252.5,335.5 246.7,338.2 244.0,340.3 C241.3,342.4 240.0,344.3 238.1,346.9 C236.2,349.4 234.2,352.5 232.3,355.6 C230.4,358.8 228.4,362.6 226.5,365.8 C224.6,369.0 222.5,371.7 220.6,374.6 C218.7,377.5 216.2,381.2 214.8,383.3 C213.4,385.4 212.4,386.4 211.9,387.0" stroke="#0000ff" stroke-width="2.0" fill="none"/>
<path d="M254.2,334.5 C252.5,335.5 246.7,338.2 244.0,340.3 C241.3,342.4 240.0,344.3 238.1,346.9 C236.2,349.4 234.2,352.5 232.3,355.6 C230.4,358.8 228.4,362.6 226.5,365.8 C224.6,369.0 222.5,371.7 220.6,374.6 C218.7,377.5 216.2,381.2 214.8,383.3 C213.4,385.4 212.4,386.4 211.9,387.0" stroke="#00ff00" stroke-width="3.4" fill="none" stroke-linecap="round" stroke-dasharray="0.01,5.3"/>
<path d="M235.2,387.0 C235.9,385.2 238.1,379.8 239.6,376.0 C241.1,372.2 242.6,367.8 244.0,364.4 C245.4,361.0 246.6,357.8 248.3,355.6 C250.0,353.4 253.2,351.9 254.2,351.2" stroke="#ff00ff" stroke-width="2.2" fill="none"/>
<path d="M235.2,387.0 C235.9,385.2 238.1,379.8 239.6,376.0 C241.1,372.2 242.6,367.8 244.0,364.4 C245.4,361.0 246.6,357.8 248.3,355.6 C250.0,353.4 253.2,351.9 254.2,351.2" stroke="#0000ff" stroke-width="2.2" fill="none" stroke-dasharray="1.1,1.9"/>
<path d="M207.5,387.0 C208.5,386.5 211.6,385.3 213.3,384.1 C215.1,382.9 217.2,380.7 218.0,380.0" stroke="#0000ff" stroke-width="2.2" fill="none"/>
<path d="M207.5,387.0 C208.5,386.5 211.6,385.3 213.3,384.1 C215.1,382.9 217.2,380.7 218.0,380.0" stroke="#00ff00" stroke-width="2.2" fill="none" stroke-dasharray="1.5,1.5"/>
<path d="M74.8,379.6 C76.7,379.1 82.0,377.8 86.4,376.7 C90.8,375.6 96.1,374.2 101.0,373.1 C105.9,372.0 110.8,370.9 115.6,370.2 C120.4,369.5 122.6,369.3 130.0,369.2 C137.4,369.1 150.0,369.3 160.0,369.6 C170.0,369.9 183.1,370.5 190.0,370.8 C196.9,371.1 198.0,371.3 201.7,371.7 C205.3,372.1 208.5,372.4 211.9,373.1 C215.3,373.8 218.7,374.9 222.1,376.0 C225.5,377.1 230.0,378.9 232.3,379.7 C234.6,380.5 235.4,380.8 236.0,381.0" stroke="#00ff00" stroke-width="2.29" fill="none" stroke-linecap="round" stroke-linejoin="round"/>
<path d="M236.7,383.3 C237.7,383.2 239.6,382.6 242.5,382.6 C245.4,382.6 252.2,383.2 254.2,383.3" stroke="#00ff00" stroke-width="2.64" fill="none" stroke-linecap="round" stroke-linejoin="round"/>
<path d="M53.6,350.5 C54.5,350.6 56.9,350.7 58.7,351.2 C60.5,351.7 62.4,352.2 64.6,353.4 C66.8,354.6 69.5,356.4 71.9,358.5 C74.3,360.6 76.7,363.4 79.1,365.8 C81.5,368.2 84.0,370.8 86.4,373.1 C88.8,375.4 91.3,377.4 93.7,379.6 C96.1,381.8 99.6,385.0 101.0,386.2 C102.4,387.4 101.8,386.9 102.0,387.0" stroke="#ff00ff" stroke-width="3.8" fill="none" stroke-linecap="round" stroke-linejoin="round"/>
<path d="M218.0,386.0 C218.2,385.6 218.3,385.2 219.2,383.3 C220.1,381.4 221.8,377.5 223.5,374.6 C225.2,371.7 227.2,368.5 229.4,365.8 C231.6,363.1 234.0,360.7 236.7,358.5 C239.4,356.3 242.5,354.0 245.4,352.7 C248.3,351.4 252.7,350.9 254.2,350.5" stroke="#0000ff" stroke-width="2.0" fill="none"/>
<path d="M218.0,386.0 C218.2,385.6 218.3,385.2 219.2,383.3 C220.1,381.4 221.8,377.5 223.5,374.6 C225.2,371.7 227.2,368.5 229.4,365.8 C231.6,363.1 234.0,360.7 236.7,358.5 C239.4,356.3 242.5,354.0 245.4,352.7 C248.3,351.4 252.7,350.9 254.2,350.5" stroke="#ff00ff" stroke-width="3.8" fill="none" stroke-linecap="round" stroke-dasharray="0.01,5.3"/>
<path d="M236.7,358.5 C238.1,357.5 242.5,354.0 245.4,352.7 C248.3,351.4 252.7,350.9 254.2,350.5" stroke="#ff00ff" stroke-width="3.6" fill="none" stroke-linecap="round" stroke-linejoin="round"/>
<path d="M53.6,334.0 C55.4,334.4 60.3,335.6 64.6,336.7 C68.8,337.8 74.2,339.1 79.1,340.3 C83.9,341.5 88.8,342.8 93.7,343.9 C98.6,344.9 103.9,346.1 108.3,346.6 C112.7,347.1 116.6,346.7 120.0,346.9 C123.4,347.1 127.2,347.5 128.7,347.6" stroke="#00ff00" stroke-width="2.99" fill="none" stroke-linecap="round" stroke-linejoin="round"/>
<path d="M196.0,369.0 C196.9,368.2 199.0,366.5 201.7,364.4 C204.3,362.3 208.5,359.1 211.9,356.4 C215.3,353.7 218.4,350.9 222.1,348.3 C225.8,345.7 229.9,342.9 233.8,341.0 C237.7,339.1 242.0,337.8 245.4,336.7 C248.8,335.6 252.7,334.9 254.2,334.5" stroke="#00ff00" stroke-width="2.99" fill="none" stroke-linecap="round" stroke-linejoin="round"/>
</g>
<g clip-path="url(#pa0)">
<polyline points="310.0,5.5 310.0,5.5 322.0,6.8 310.0,8.1 284.0,11.0 330.0,11.3 330.0,11.8 284.0,12.2 280.0,14.2 300.0,14.6 280.0,14.9 276.0,17.5 330.0,17.9 276.0,18.2 271.0,20.8 330.0,21.2 271.0,21.6 271.0,24.6 322.0,25.0 271.0,25.4 270.8,28.0 304.0,28.4 304.0,28.6 270.8,29.0 270.8,30.3 291.0,30.7 270.8,31.1 270.8,32.2 312.0,32.6 270.8,33.0 280.0,34.2 312.0,34.6 280.0,35.0 280.0,36.9 310.0,37.2 280.0,37.6 270.8,38.5 330.0,38.9 330.0,39.4 270.8,39.7 276.0,41.4 330.0,41.8 276.0,42.1 270.8,44.5 330.0,44.9 330.0,45.7 270.8,46.0 282.0,48.3 310.0,48.6 310.0,49.1 282.0,49.5 270.8,50.9 290.0,51.3 270.8,51.6 270.8,54.1 320.0,54.5 270.8,54.9 270.8,58.3 330.0,58.6 330.0,59.1 270.8,59.5 270.8,59.9 279.0,61.2 270.8,62.5 278.0,64.5 310.0,64.8 310.0,65.2 278.0,65.5 270.8,67.7 290.0,68.0 270.8,68.3 270.8,71.1 311.0,71.4 311.0,71.8 270.8,72.1 270.8,75.7 289.0,76.0 270.8,76.3 270.8,79.9 308.0,80.2 308.0,80.6 270.8,80.9 270.8,84.4 317.0,84.8 317.0,85.1 270.8,85.4 270.8,87.0 279.0,88.3 270.8,89.6 270.8,91.7 291.0,92.0 291.0,92.4 270.8,92.7 270.8,93.1 280.0,94.4 280.0,94.8 270.8,96.0 270.8,141.2 280.5,142.5 280.5,143.3 270.8,144.6 270.8,145.9 290.6,146.2 290.6,146.6 270.8,146.9 273.0,149.0 288.0,149.3 288.0,149.7 273.0,150.0 273.0,152.1 302.0,152.4 302.0,152.8 273.0,153.1 272.0,156.6 293.0,156.9 293.0,157.7 272.0,158.1 270.8,161.2 304.4,161.6 304.4,162.4 270.8,162.8 270.8,163.6 280.5,164.9 280.5,166.2 270.8,167.6 270.8,169.6 293.0,169.9 293.0,171.2 270.8,171.6 275.5,174.8 293.0,175.2 293.0,176.0 275.5,176.3 275.5,177.8 326.0,178.7 326.0,179.8 306.0,181.6 293.0,183.2 281.0,185.0 270.8,186.1 273.0,186.3 284.3,187.4 284.3,188.2 280.5,188.8 270.8,189.5 290.6,190.1 290.6,190.9 280.5,192.2 270.8,193.0" stroke="#00ff00" stroke-width="1.75" fill="none" stroke-linejoin="round"/>
</g>
<g clip-path="url(#pa1)">
<polyline points="326.5,5.5 326.5,16.2 328.5,17.5 326.5,18.8 326.5,31.7 329.0,33.0 326.5,34.3 326.5,60.7 328.0,62.0 326.5,63.3 326.5,84.7 329.0,86.0 326.5,87.3 326.5,139.1 328.5,140.4 326.5,141.5 326.5,141.7 334.5,142.8 326.5,144.1 326.5,146.2 341.6,146.6 326.5,146.9 326.5,148.3 338.4,149.6 326.5,150.9 326.5,152.2 349.3,152.6 326.5,152.9 326.5,156.1 342.2,156.4 326.5,156.8 326.5,157.7 340.0,159.0 326.5,160.3 326.5,161.6 350.4,161.9 326.5,162.2 326.5,165.3 333.0,166.6 326.5,167.9 326.5,169.1 340.5,170.4 326.5,171.7 326.5,175.0 341.0,175.3 326.5,175.7 328.0,178.0 381.0,179.0 381.0,180.0 363.4,181.2 353.4,182.4 343.3,183.6 334.0,184.3 326.5,184.8 343.8,185.2 326.5,185.5 326.5,187.7 341.6,188.0 341.6,188.3 326.5,188.7 326.5,189.3 336.0,190.6 326.5,191.9 326.5,193.0" stroke="#000" stroke-width="2.1" fill="none" stroke-linejoin="round"/>
</g>
<g clip-path="url(#pa2)">
<polyline points="384.0,5.5 384.0,6.5 392.7,9.4 382.0,11.0 386.8,13.1 382.0,14.8 387.8,16.4 382.0,17.8 390.0,19.1 382.0,20.5 385.0,22.0 381.5,23.5 386.2,25.5 381.5,27.5 385.7,31.0 381.5,32.5 383.5,33.5 381.5,34.2 385.7,35.2 381.5,37.0 386.8,39.5 381.5,41.5 383.0,43.0 390.0,45.4 382.0,46.8 385.0,48.2 381.5,49.5 385.7,50.8 381.5,52.0 381.5,57.0 390.5,59.1 382.0,60.5 381.5,62.5 386.8,64.5 382.0,66.5 381.5,70.0 385.2,72.0 381.5,73.5 381.5,79.0 385.7,80.7 381.5,82.5 381.5,83.5 386.8,85.0 381.5,86.5 381.5,90.5 383.0,92.0 381.0,93.5 380.8,139.0 383.0,141.0 381.0,142.5 383.5,144.0 381.0,146.0 385.4,148.5 381.5,150.0 382.5,152.0 381.0,154.0 383.5,156.0 381.0,158.0 383.0,161.0 381.0,164.0 384.8,166.7 381.0,168.5 383.0,170.0 381.0,172.0 384.8,173.6 381.5,175.5 388.5,178.6 385.0,180.0 399.8,181.8 391.0,183.0 392.0,184.5 389.0,186.0 390.0,187.5 386.0,189.0 388.0,190.5 383.0,192.5 381.2,193.0" stroke="#ff0000" stroke-width="1.8" fill="none" stroke-linejoin="round"/>
</g>
<g clip-path="url(#pa3)">
<polyline points="436.3,5.5 436.3,21.7 437.7,23.0 436.3,24.3 436.3,140.7 438.5,142.0 436.3,143.3 436.3,143.7 438.0,145.0 436.3,146.3 436.3,147.2 439.5,148.5 436.3,149.8 436.3,150.7 437.5,152.0 436.3,153.3 436.3,154.7 439.0,156.0 436.3,157.3 436.3,157.7 438.5,159.0 436.3,160.3 436.3,161.7 440.5,163.0 436.3,164.3 436.3,166.8 446.0,168.2 446.0,168.5 436.3,169.8 436.3,169.7 441.0,171.0 436.3,172.3 436.3,172.1 449.8,173.4 449.8,173.8 436.3,175.1 436.3,174.7 442.0,176.0 436.3,177.3 436.3,177.2 443.5,178.5 436.3,179.8 436.3,181.5 453.6,181.8 453.6,182.2 436.3,182.5 436.3,183.0 444.0,184.3 436.3,185.6 436.3,186.0 451.0,186.3 451.0,186.7 436.3,187.0 436.3,187.2 445.0,188.5 436.3,189.8 436.3,189.8 456.0,190.2 456.0,190.5 436.3,190.8 436.3,193.0" stroke="#00ffff" stroke-width="2.0" fill="none" stroke-linejoin="round"/>
</g>
<g clip-path="url(#pa4)">
<polyline points="491.2,5.5 491.2,9.4 492.7,10.7 491.2,12.0 491.2,12.7 492.0,14.0 491.2,15.3 491.2,16.7 492.0,18.0 491.2,19.3 491.2,22.7 494.0,24.0 491.2,25.3 491.2,26.7 491.5,28.0 491.2,29.3 491.2,139.7 493.0,141.0 491.2,142.3 491.2,142.7 518.7,143.1 518.7,143.6 491.2,143.9 491.2,144.2 505.0,145.5 491.2,146.8 491.2,147.8 546.0,148.2 546.0,149.0 491.2,149.3 491.2,149.2 502.0,150.5 491.2,151.8 491.2,151.0 503.6,152.3 491.2,153.6 491.2,153.2 500.0,154.5 491.2,155.8 491.2,155.7 515.5,156.0 515.5,156.8 491.2,157.2 491.2,157.2 498.0,158.5 491.2,159.8 491.2,161.1 507.3,161.5 507.3,162.2 491.2,162.5 491.2,162.5 500.0,163.8 491.2,165.1 491.2,166.2 529.6,166.6 529.6,167.1 491.2,167.4 491.2,168.8 515.0,169.2 491.2,169.5 491.2,169.7 500.0,171.0 491.2,172.3 491.2,173.0 533.0,173.3 533.0,173.8 491.2,174.2 491.2,175.2 518.0,175.5 491.2,175.8 491.2,176.8 504.5,178.2 504.5,178.5 491.2,179.8 491.2,181.2 534.3,181.6 534.3,182.1 491.2,182.4 491.2,183.7 510.0,184.0 491.2,184.3 491.2,185.9 519.0,186.2 519.0,186.6 491.2,186.9 491.2,189.1 530.7,189.5 530.7,190.2 491.2,190.5 491.2,191.2 510.0,191.6 491.2,191.9 491.2,193.0" stroke="#0000ff" stroke-width="2.2" fill="none" stroke-linejoin="round"/>
</g>
<g clip-path="url(#pb0)">
<polyline points="318.0,200.8 318.0,203.2 324.0,204.5 324.0,204.8 318.0,206.2 281.5,206.8 322.0,207.2 322.0,208.2 281.5,208.5 285.5,209.8 312.0,210.1 312.0,210.9 285.5,211.2 280.0,212.8 322.0,213.1 322.0,213.9 280.0,214.2 271.0,217.0 315.0,217.3 315.0,218.3 271.0,218.7 270.8,219.7 292.0,220.0 270.8,220.3 270.8,223.0 285.5,223.3 285.5,224.3 270.8,224.7 273.5,225.0 285.5,226.3 285.5,226.7 273.5,228.0 288.0,228.6 312.4,228.9 312.4,229.7 288.0,230.1 288.0,231.1 319.8,231.4 319.8,231.8 288.0,232.1 270.8,234.5 311.0,234.8 311.0,235.2 270.8,235.5 270.8,238.6 330.0,238.9 330.0,239.9 270.8,240.2 295.0,240.3 305.7,241.6 305.7,242.4 295.0,243.7 270.8,244.4 307.0,244.8 307.0,245.2 270.8,245.6 270.8,251.5 330.0,251.8 330.0,253.2 270.8,253.5 270.8,254.6 282.0,255.9 270.8,257.2 270.8,258.0 303.0,258.4 303.0,258.9 270.8,259.2 270.8,261.6 288.7,262.0 270.8,262.4 270.8,264.5 310.5,264.9 310.5,265.4 270.8,265.7 270.8,268.5 284.0,269.8 270.8,271.1 270.8,273.2 304.0,273.6 270.8,274.0 270.8,277.1 307.3,277.4 307.3,277.9 270.8,278.3 270.8,284.0 287.0,284.4 287.0,284.9 270.8,285.2 270.8,285.9 277.8,287.2 277.8,288.0 270.8,289.3 270.8,335.1 280.0,336.4 280.0,337.6 270.8,338.9 270.8,340.8 287.6,341.1 287.6,341.6 270.8,342.0 274.0,343.0 284.0,344.3 274.0,345.6 274.0,346.8 295.3,347.1 295.3,347.6 274.0,348.0 273.0,350.5 289.8,350.9 289.8,351.4 273.0,351.7 270.8,353.8 296.4,354.2 270.8,354.6 270.8,356.0 300.7,356.4 300.7,356.9 270.8,357.2 270.8,357.7 279.0,359.0 270.8,359.8 270.8,360.3 279.0,361.1 279.0,361.6 270.8,362.9 270.8,364.0 288.7,364.4 288.7,364.9 270.8,365.2 270.8,365.5 280.0,366.8 271.0,368.0 270.8,368.1 281.1,369.5 300.7,370.6 326.0,371.8 326.0,372.6 306.2,374.0 289.8,376.6 284.4,379.3 273.0,380.9 273.5,381.0 289.8,381.3 289.8,382.3 273.0,382.7 270.8,383.6 279.0,384.9 279.0,385.1 270.8,386.4 270.8,388.0" stroke="#00ff00" stroke-width="1.75" fill="none" stroke-linejoin="round"/>
</g>
<g clip-path="url(#pb1)">
<polyline points="326.5,200.8 326.5,210.7 328.5,212.0 326.5,213.3 326.5,226.7 329.0,228.0 326.5,229.3 326.5,255.7 328.0,257.0 326.5,258.3 326.5,279.7 329.0,281.0 326.5,282.3 326.5,334.4 329.5,335.7 326.5,336.2 326.5,337.0 333.3,337.5 326.5,338.8 326.5,339.9 338.3,341.2 338.3,341.4 326.5,342.2 326.5,342.7 335.8,343.5 326.5,344.8 326.5,346.5 344.6,346.9 344.6,347.1 326.5,347.5 326.5,349.3 338.3,350.6 338.3,350.8 326.5,351.7 326.5,352.1 332.0,353.0 326.5,354.3 330.0,354.8 347.7,355.2 330.0,355.6 336.0,356.1 347.7,357.4 336.0,358.7 326.5,359.8 330.8,361.1 326.5,362.4 326.5,363.1 337.0,364.4 337.0,364.6 326.5,365.2 326.5,365.9 332.0,366.5 326.5,367.3 326.5,367.8 338.3,368.6 326.5,369.9 330.0,371.2 381.0,372.0 381.0,373.0 363.4,374.3 342.1,376.0 337.1,378.4 334.6,380.0 326.5,380.1 338.3,381.4 338.3,382.2 326.5,383.5 326.5,383.7 333.3,385.0 326.5,386.3 326.5,388.0" stroke="#000" stroke-width="2.1" fill="none" stroke-linejoin="round"/>
</g>
<g clip-path="url(#pb2)">
<polyline points="387.0,200.8 387.0,201.5 386.0,204.0 387.8,206.5 382.5,208.6 386.8,209.8 382.0,211.4 388.4,215.1 382.0,216.8 386.2,220.5 381.8,222.1 382.5,225.4 384.0,228.0 385.7,230.8 381.5,233.4 381.5,236.7 388.9,239.9 381.5,241.5 384.6,243.1 381.5,245.3 381.5,251.0 389.5,253.1 381.5,255.0 381.5,257.0 385.1,258.5 381.5,260.0 381.5,263.5 384.6,264.9 381.5,266.5 381.5,272.0 384.6,273.5 381.5,275.0 384.6,277.3 381.5,279.0 383.0,281.0 381.5,282.5 382.5,284.8 381.0,286.5 380.8,334.0 382.3,336.0 381.0,338.0 382.5,340.0 381.0,342.0 382.3,344.0 381.0,346.0 382.5,348.0 381.0,350.0 384.2,353.7 381.0,355.5 382.0,358.0 381.0,360.0 382.0,362.0 381.0,364.0 382.0,366.0 381.0,369.0 394.2,371.3 389.0,372.5 390.5,374.0 389.5,376.0 390.5,378.0 390.0,380.0 391.0,381.5 386.5,383.0 385.0,385.0 382.0,386.5 381.2,388.0" stroke="#ff0000" stroke-width="1.8" fill="none" stroke-linejoin="round"/>
</g>
<g clip-path="url(#pb3)">
<polyline points="436.3,200.8 436.3,208.4 443.2,209.7 436.3,211.0 436.3,219.1 441.7,220.4 436.3,221.7 436.3,225.2 443.8,226.5 436.3,227.8 436.3,240.4 443.2,241.7 436.3,243.0 436.3,251.1 437.7,252.4 436.3,253.7 436.0,343.6 436.6,346.1 440.4,347.1 437.9,348.2 440.4,349.2 436.6,351.1 443.6,353.0 451.7,354.6 442.3,355.9 437.3,357.6 436.0,360.5 441.0,362.6 449.8,363.9 456.7,364.9 454.8,365.9 446.1,367.4 438.5,368.7 436.6,369.9 440.4,371.2 437.9,372.4 436.6,374.3 456.1,376.4 475.6,377.7 456.1,378.9 439.8,381.2 436.0,381.8 435.8,386.2 436.3,388.0" stroke="#ff00ff" stroke-width="2.2" fill="none" stroke-linejoin="round"/>
</g>
<g clip-path="url(#pb4)">
<polyline points="491.2,200.8 491.2,208.4 496.6,209.7 491.2,211.0 491.2,219.1 496.0,220.4 491.2,221.7 491.2,225.2 496.6,226.5 491.2,227.8 491.2,240.4 495.7,241.7 491.2,243.0 491.2,251.1 492.0,252.4 491.2,253.7 490.8,342.9 491.6,344.2 495.4,346.1 514.2,347.6 498.6,348.6 503.6,349.8 493.5,351.1 494.8,352.3 546.0,354.2 511.1,355.5 493.5,356.7 503.6,358.0 492.3,359.2 502.3,360.5 491.6,361.8 506.1,363.4 521.1,364.6 522.4,365.5 504.8,366.8 492.3,368.0 501.1,369.3 491.0,370.5 501.7,371.8 491.6,373.7 511.1,376.4 535.6,377.7 504.8,379.3 492.3,380.6 490.8,382.5 490.8,386.2 491.2,388.0" stroke="#0000ff" stroke-width="2.2" fill="none" stroke-linejoin="round"/>
</g>
<g stroke="#000" stroke-width="1.8" stroke-dasharray="4.4,3.8" fill="none">
<line x1="127.3" y1="6.5" x2="127.3" y2="192.0" stroke-dasharray="4.1,4.0" stroke-dashoffset="-2.1" stroke-width="1.7"/>
<line x1="169.5" y1="6.5" x2="169.5" y2="192.0" stroke-dasharray="4.1,4.0" stroke-dashoffset="-2.1" stroke-width="1.7"/>
<line x1="52.2" y1="139.0" x2="255.0" y2="139.0"/>
<line x1="269.2" y1="139.0" x2="545.0" y2="139.0"/>
</g>
<path d="M53.5,192.0 h4 M270.0,192.0 h4 M325.0,192.0 h4 M380.0,192.0 h4 M435.0,192.0 h4 M490.0,192.0 h4 M53.5,165.5 h2 M270.0,165.5 h2 M325.0,165.5 h2 M380.0,165.5 h2 M435.0,165.5 h2 M490.0,165.5 h2 M53.5,139.0 h4 M270.0,139.0 h4 M325.0,139.0 h4 M380.0,139.0 h4 M435.0,139.0 h4 M490.0,139.0 h4 M53.5,112.5 h2 M270.0,112.5 h2 M325.0,112.5 h2 M380.0,112.5 h2 M435.0,112.5 h2 M490.0,112.5 h2 M53.5,86.0 h4 M270.0,86.0 h4 M325.0,86.0 h4 M380.0,86.0 h4 M435.0,86.0 h4 M490.0,86.0 h4 M53.5,59.5 h2 M270.0,59.5 h2 M325.0,59.5 h2 M380.0,59.5 h2 M435.0,59.5 h2 M490.0,59.5 h2 M53.5,33.0 h4 M270.0,33.0 h4 M325.0,33.0 h4 M380.0,33.0 h4 M435.0,33.0 h4 M490.0,33.0 h4 M53.5,6.5 h2 M270.0,6.5 h2 M325.0,6.5 h2 M380.0,6.5 h2 M435.0,6.5 h2 M490.0,6.5 h2 M127.3,192.0 v-3 M169.5,192.0 v-3 M288.4,192.0 v-2.5 M306.7,192.0 v-4 M343.3,192.0 v-2.5 M361.6,192.0 v-4 M398.3,192.0 v-2.5 M416.6,192.0 v-4 M453.3,192.0 v-2.5 M471.6,192.0 v-4 M508.2,192.0 v-2.5 M526.4,192.0 v-4" stroke="#000" stroke-width="1.3" fill="none"/>
<rect x="53.5" y="6.5" width="201.5" height="185.5" fill="none" stroke="#000" stroke-width="1.6"/>
<rect x="270.0" y="6.5" width="275.0" height="185.5" fill="none" stroke="#000" stroke-width="1.6"/>
<line x1="325.0" y1="6.5" x2="325.0" y2="192.0" stroke="#000" stroke-width="1.6"/>
<line x1="380.0" y1="6.5" x2="380.0" y2="192.0" stroke="#000" stroke-width="1.6"/>
<line x1="435.0" y1="6.5" x2="435.0" y2="192.0" stroke="#000" stroke-width="1.6"/>
<line x1="490.0" y1="6.5" x2="490.0" y2="192.0" stroke="#000" stroke-width="1.6"/>
<text x="48.6" y="41.1" text-anchor="end" font-size="26">4</text>
<text x="48.6" y="94.1" text-anchor="end" font-size="26">2</text>
<text x="48.6" y="147.1" text-anchor="end" font-size="26">0</text>
<text x="48.6" y="200.1" text-anchor="end" font-size="26">-2</text>
<text x="7" y="23.7" font-size="21.5">(a)</text>
<text transform="translate(23.8,98.5) rotate(-90)" text-anchor="middle" font-size="25.5">Energy/eV</text>
<text transform="translate(297.6,130.5) scale(0.97,1)" text-anchor="middle" font-size="19.5">Sc-3d</text>
<text transform="translate(350.9,130.5) scale(1.0,1)" text-anchor="middle" font-size="19.5">C-2p</text>
<text transform="translate(405.0,130.5) scale(1.0,1)" text-anchor="middle" font-size="19.5">F-2p</text>
<text transform="translate(463.3,130.5) scale(1.0,1)" text-anchor="middle" font-size="19.5">Al-3p</text>
<text transform="translate(515.8,130.5) scale(0.985,1)" text-anchor="middle" font-size="19.5">N-2p</text>
<g stroke="#000" stroke-width="1.8" stroke-dasharray="4.4,3.8" fill="none">
<line x1="127.3" y1="201.8" x2="127.3" y2="387.0" stroke-dasharray="4.1,4.0" stroke-dashoffset="-2.1" stroke-width="1.7"/>
<line x1="169.5" y1="201.8" x2="169.5" y2="387.0" stroke-dasharray="4.1,4.0" stroke-dashoffset="-2.1" stroke-width="1.7"/>
<line x1="52.2" y1="334.0857142857143" x2="255.0" y2="334.0857142857143"/>
<line x1="269.2" y1="334.0857142857143" x2="545.0" y2="334.0857142857143"/>
</g>
<path d="M53.5,387.0 h4 M270.0,387.0 h4 M325.0,387.0 h4 M380.0,387.0 h4 M435.0,387.0 h4 M490.0,387.0 h4 M53.5,360.5 h2 M270.0,360.5 h2 M325.0,360.5 h2 M380.0,360.5 h2 M435.0,360.5 h2 M490.0,360.5 h2 M53.5,334.1 h4 M270.0,334.1 h4 M325.0,334.1 h4 M380.0,334.1 h4 M435.0,334.1 h4 M490.0,334.1 h4 M53.5,307.6 h2 M270.0,307.6 h2 M325.0,307.6 h2 M380.0,307.6 h2 M435.0,307.6 h2 M490.0,307.6 h2 M53.5,281.2 h4 M270.0,281.2 h4 M325.0,281.2 h4 M380.0,281.2 h4 M435.0,281.2 h4 M490.0,281.2 h4 M53.5,254.7 h2 M270.0,254.7 h2 M325.0,254.7 h2 M380.0,254.7 h2 M435.0,254.7 h2 M490.0,254.7 h2 M53.5,228.3 h4 M270.0,228.3 h4 M325.0,228.3 h4 M380.0,228.3 h4 M435.0,228.3 h4 M490.0,228.3 h4 M53.5,201.8 h2 M270.0,201.8 h2 M325.0,201.8 h2 M380.0,201.8 h2 M435.0,201.8 h2 M490.0,201.8 h2 M127.3,387.0 v-3 M169.5,387.0 v-3 M288.4,387.0 v-2.5 M306.7,387.0 v-4 M343.3,387.0 v-2.5 M361.6,387.0 v-4 M398.3,387.0 v-2.5 M416.6,387.0 v-4 M453.3,387.0 v-2.5 M471.6,387.0 v-4 M508.2,387.0 v-2.5 M526.4,387.0 v-4" stroke="#000" stroke-width="1.3" fill="none"/>
<rect x="53.5" y="201.8" width="201.5" height="185.2" fill="none" stroke="#000" stroke-width="1.6"/>
<rect x="270.0" y="201.8" width="275.0" height="185.2" fill="none" stroke="#000" stroke-width="1.6"/>
<line x1="325.0" y1="201.8" x2="325.0" y2="387.0" stroke="#000" stroke-width="1.6"/>
<line x1="380.0" y1="201.8" x2="380.0" y2="387.0" stroke="#000" stroke-width="1.6"/>
<line x1="435.0" y1="201.8" x2="435.0" y2="387.0" stroke="#000" stroke-width="1.6"/>
<line x1="490.0" y1="201.8" x2="490.0" y2="387.0" stroke="#000" stroke-width="1.6"/>
<text x="48.6" y="236.4" text-anchor="end" font-size="26">4</text>
<text x="48.6" y="289.3" text-anchor="end" font-size="26">2</text>
<text x="48.6" y="342.2" text-anchor="end" font-size="26">0</text>
<text x="48.6" y="395.1" text-anchor="end" font-size="26">-2</text>
<text x="7" y="219.0" font-size="21.5">(b)</text>
<text transform="translate(23.8,293.7) rotate(-90)" text-anchor="middle" font-size="25.5">Energy/eV</text>
<text transform="translate(297.6,325.6) scale(0.97,1)" text-anchor="middle" font-size="19.5">Sc-3d</text>
<text transform="translate(350.9,325.6) scale(1.0,1)" text-anchor="middle" font-size="19.5">C-2p</text>
<text transform="translate(405.0,325.6) scale(1.0,1)" text-anchor="middle" font-size="19.5">F-2p</text>
<text transform="translate(465.6,325.6) scale(0.95,1)" text-anchor="middle" font-size="19.5">Ga-4p</text>
<text transform="translate(515.8,325.6) scale(0.985,1)" text-anchor="middle" font-size="19.5">N-2p</text>
<text x="53.5" y="412.3" text-anchor="middle" font-size="25">G</text>
<text x="127.3" y="412.3" text-anchor="middle" font-size="25">M</text>
<text x="169.5" y="412.3" text-anchor="middle" font-size="25">K</text>
<text x="254.5" y="412.3" text-anchor="middle" font-size="25">G</text>
<text x="270.2" y="412.5" text-anchor="middle" font-size="26">0</text>
<text x="306.5" y="412.5" text-anchor="middle" font-size="26">2</text>
<text x="325.0" y="412.5" text-anchor="middle" font-size="26">0</text>
<text x="361.4" y="412.5" text-anchor="middle" font-size="26">2</text>
<text x="380.3" y="412.5" text-anchor="middle" font-size="26">0</text>
<text x="415.7" y="412.5" text-anchor="middle" font-size="26">1</text>
<text x="433.0" y="412.5" text-anchor="middle" font-size="26">0</text>
<text x="470.0" y="412.5" text-anchor="middle" font-size="26">1</text>
<text x="488.5" y="412.5" text-anchor="middle" font-size="26">0</text>
<text x="526.4" y="412.5" text-anchor="middle" font-size="26">2</text>
<text x="310.5" y="439.5" font-size="25.4">PDOS/states*eV<tspan dx="0.5" dy="-10.5" font-size="17">-1</tspan></text>
</svg>
</body></html>
